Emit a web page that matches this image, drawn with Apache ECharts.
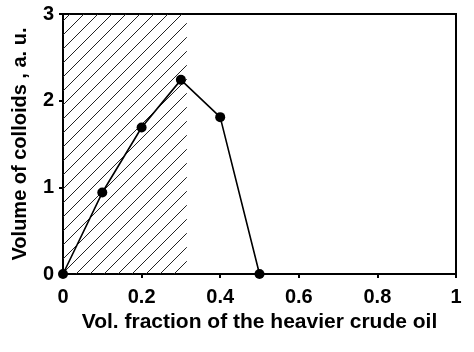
<!DOCTYPE html>
<html>
<head>
<meta charset="utf-8">
<script src="https://cdn.jsdelivr.net/npm/echarts@6/dist/echarts.min.js"></script>
<style>
  html, body { margin: 0; padding: 0; background: #fff; }
  #chart { width: 474px; height: 352px; }
</style>
</head>
<body>
<div id="chart"></div>
<script>
// data
const fractions = [0, 0.1, 0.2, 0.3, 0.4, 0.5];
const colloids = [0, 0.94, 1.69, 2.24, 1.81, 0];
const hatchFrom = 0;
const hatchTo = 0.315;

// diagonal hatch pattern
function makeHatch() {
  const c = document.createElement('canvas');
  c.width = 14; c.height = 14;
  const g = c.getContext('2d');
  g.strokeStyle = '#222';
  g.lineWidth = 1;
  g.beginPath();
  g.moveTo(0, 14); g.lineTo(14, 0);
  g.moveTo(-7, 7); g.lineTo(7, -7);
  g.moveTo(7, 21); g.lineTo(21, 7);
  g.stroke();
  return c;
}

const labelFont = { color: '#000', fontFamily: 'Liberation Sans, Arial', fontWeight: 'bold', fontSize: 20 };

let myChart = echarts.init(document.getElementById('chart'));
myChart.setOption({
  animation: false,
  grid: {
    left: 63, right: 18, top: 14, bottom: 78,
    containLabel: false,
    outerBoundsMode: 'none',
    show: true, borderColor: '#000', borderWidth: 2
  },
  xAxis: {
    type: 'value',
    min: 0, max: 1, interval: 0.2,
    name: 'Vol. fraction of the heavier crude oil',
    nameLocation: 'middle',
    nameGap: 38,
    nameTextStyle: Object.assign({}, labelFont, { fontSize: 21 }),
    axisLine: { lineStyle: { color: '#000', width: 2 } },
    axisTick: { show: true, length: 4, lineStyle: { color: '#000', width: 2 } },
    axisLabel: Object.assign({ margin: 13 }, labelFont),
    splitLine: { show: false }
  },
  yAxis: {
    type: 'value',
    min: 0, max: 3, interval: 1,
    name: 'Volume of colloids , a. u.',
    nameLocation: 'middle',
    nameGap: 33,
    nameTextStyle: Object.assign({}, labelFont, { fontSize: 20 }),
    axisLine: { lineStyle: { color: '#000', width: 2 } },
    axisTick: { show: true, length: 4, lineStyle: { color: '#000', width: 2 } },
    axisLabel: Object.assign({ margin: 9 }, labelFont),
    splitLine: { show: false }
  },
  series: [{
    type: 'line',
    data: fractions.map((x, i) => [x, colloids[i]]),
    symbol: 'circle',
    symbolSize: 10,
    itemStyle: { color: '#000' },
    lineStyle: { color: '#000', width: 1.6 },
    z: 5,
    markArea: {
      silent: true,
      itemStyle: {
        color: { image: makeHatch(), repeat: 'repeat' }
      },
      data: [[{ xAxis: hatchFrom, yAxis: 0 }, { xAxis: hatchTo, yAxis: 3 }]]
    }
  }]
});
</script>
</body>
</html>
